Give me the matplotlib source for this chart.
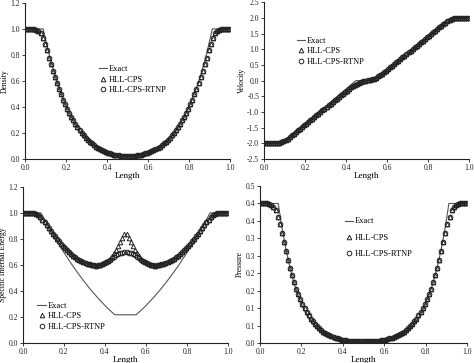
import matplotlib
matplotlib.use('Agg')
import matplotlib.pyplot as plt
from matplotlib.ticker import FixedLocator, FixedFormatter

plt.rcParams['font.family'] = ['Liberation Serif', 'DejaVu Serif']

# cell centres of the 100-cell mesh
length = [0.005, 0.015, 0.025, 0.035, 0.045, 0.055, 0.065, 0.075, 0.085, 0.095,
          0.105, 0.115, 0.125, 0.135, 0.145, 0.155, 0.165, 0.175, 0.185, 0.195,
          0.205, 0.215, 0.225, 0.235, 0.245, 0.255, 0.265, 0.275, 0.285, 0.295,
          0.305, 0.315, 0.325, 0.335, 0.345, 0.355, 0.365, 0.375, 0.385, 0.395,
          0.405, 0.415, 0.425, 0.435, 0.445, 0.455, 0.465, 0.475, 0.485, 0.495,
          0.505, 0.515, 0.525, 0.535, 0.545, 0.555, 0.565, 0.575, 0.585, 0.595,
          0.605, 0.615, 0.625, 0.635, 0.645, 0.655, 0.665, 0.675, 0.685, 0.695,
          0.705, 0.715, 0.725, 0.735, 0.745, 0.755, 0.765, 0.775, 0.785, 0.795,
          0.805, 0.815, 0.825, 0.835, 0.845, 0.855, 0.865, 0.875, 0.885, 0.895,
          0.905, 0.915, 0.925, 0.935, 0.945, 0.955, 0.965, 0.975, 0.985, 0.995]

density = [1.000, 1.000, 1.000, 1.000, 0.999, 0.995, 0.985, 0.965, 0.930, 0.885,
           0.835, 0.780, 0.728, 0.677, 0.628, 0.582, 0.538, 0.496, 0.457, 0.420,
           0.386, 0.354, 0.324, 0.296, 0.270, 0.246, 0.223, 0.202, 0.183, 0.165,
           0.149, 0.134, 0.120, 0.108, 0.096, 0.086, 0.077, 0.068, 0.061, 0.054,
           0.048, 0.043, 0.038, 0.034, 0.031, 0.028, 0.026, 0.024, 0.023, 0.022,
           0.022, 0.023, 0.024, 0.026, 0.028, 0.031, 0.034, 0.038, 0.043, 0.048,
           0.054, 0.061, 0.068, 0.077, 0.086, 0.096, 0.108, 0.120, 0.134, 0.149,
           0.165, 0.183, 0.202, 0.223, 0.246, 0.270, 0.296, 0.324, 0.354, 0.386,
           0.420, 0.457, 0.496, 0.538, 0.582, 0.628, 0.677, 0.728, 0.780, 0.835,
           0.885, 0.930, 0.965, 0.985, 0.995, 0.999, 1.000, 1.000, 1.000, 1.000]

velocity = [-2.000, -2.000, -2.000, -2.000, -2.000, -1.999, -1.995, -1.982, -1.960, -1.930,
            -1.895, -1.850, -1.800, -1.747, -1.693, -1.640, -1.587, -1.534, -1.481, -1.428,
            -1.375, -1.322, -1.269, -1.216, -1.163, -1.110, -1.057, -1.004, -0.951, -0.898,
            -0.845, -0.792, -0.739, -0.686, -0.633, -0.580, -0.527, -0.474, -0.421, -0.369,
            -0.318, -0.268, -0.220, -0.175, -0.134, -0.097, -0.066, -0.040, -0.020, -0.006,
            0.006, 0.020, 0.040, 0.066, 0.097, 0.134, 0.175, 0.220, 0.268, 0.318,
            0.369, 0.421, 0.474, 0.527, 0.580, 0.633, 0.686, 0.739, 0.792, 0.845,
            0.898, 0.951, 1.004, 1.057, 1.110, 1.163, 1.216, 1.269, 1.322, 1.375,
            1.428, 1.481, 1.534, 1.587, 1.640, 1.693, 1.747, 1.800, 1.850, 1.895,
            1.930, 1.960, 1.982, 1.995, 1.999, 2.000, 2.000, 2.000, 2.000, 2.000]

pressure = [0.400, 0.400, 0.400, 0.400, 0.399, 0.397, 0.391, 0.380, 0.362, 0.340,
            0.315, 0.289, 0.263, 0.238, 0.215, 0.194, 0.174, 0.156, 0.140, 0.125,
            0.112, 0.100, 0.089, 0.079, 0.070, 0.062, 0.055, 0.048, 0.043, 0.038,
            0.033, 0.029, 0.025, 0.022, 0.019, 0.017, 0.015, 0.013, 0.011, 0.010,
            0.009, 0.008, 0.007, 0.0065, 0.006, 0.0055, 0.005, 0.005, 0.0048, 0.0048,
            0.0048, 0.0048, 0.005, 0.005, 0.0055, 0.006, 0.0065, 0.007, 0.008, 0.009,
            0.010, 0.011, 0.013, 0.015, 0.017, 0.019, 0.022, 0.025, 0.029, 0.033,
            0.038, 0.043, 0.048, 0.055, 0.062, 0.070, 0.079, 0.089, 0.100, 0.112,
            0.125, 0.140, 0.156, 0.174, 0.194, 0.215, 0.238, 0.263, 0.289, 0.315,
            0.340, 0.362, 0.380, 0.391, 0.397, 0.399, 0.400, 0.400, 0.400, 0.400]

energy_cps = [1.000, 1.000, 1.000, 1.000, 0.999, 0.997, 0.991, 0.981, 0.966, 0.948,
              0.928, 0.907, 0.885, 0.863, 0.841, 0.820, 0.800, 0.781, 0.763, 0.746,
              0.730, 0.714, 0.699, 0.685, 0.672, 0.660, 0.649, 0.639, 0.630, 0.622,
              0.615, 0.609, 0.604, 0.600, 0.597, 0.596, 0.597, 0.600, 0.605, 0.612,
              0.621, 0.633, 0.648, 0.667, 0.690, 0.716, 0.745, 0.775, 0.805, 0.838,
              0.838, 0.805, 0.775, 0.745, 0.716, 0.690, 0.667, 0.648, 0.633, 0.621,
              0.612, 0.605, 0.600, 0.597, 0.596, 0.597, 0.600, 0.604, 0.609, 0.615,
              0.622, 0.630, 0.639, 0.649, 0.660, 0.672, 0.685, 0.699, 0.714, 0.730,
              0.746, 0.763, 0.781, 0.800, 0.820, 0.841, 0.863, 0.885, 0.907, 0.928,
              0.948, 0.966, 0.981, 0.991, 0.997, 0.999, 1.000, 1.000, 1.000, 1.000]

energy_rtnp = [1.000, 1.000, 1.000, 1.000, 0.999, 0.997, 0.991, 0.981, 0.966, 0.948,
               0.928, 0.907, 0.885, 0.863, 0.841, 0.820, 0.800, 0.781, 0.763, 0.746,
               0.730, 0.714, 0.699, 0.685, 0.672, 0.660, 0.649, 0.639, 0.630, 0.622,
               0.615, 0.609, 0.604, 0.600, 0.597, 0.596, 0.597, 0.600, 0.605, 0.612,
               0.620, 0.630, 0.641, 0.653, 0.664, 0.674, 0.683, 0.690, 0.695, 0.698,
               0.698, 0.695, 0.690, 0.683, 0.674, 0.664, 0.653, 0.641, 0.630, 0.620,
               0.612, 0.605, 0.600, 0.597, 0.596, 0.597, 0.600, 0.604, 0.609, 0.615,
               0.622, 0.630, 0.639, 0.649, 0.660, 0.672, 0.685, 0.699, 0.714, 0.730,
               0.746, 0.763, 0.781, 0.800, 0.820, 0.841, 0.863, 0.885, 0.907, 0.928,
               0.948, 0.966, 0.981, 0.991, 0.997, 0.999, 1.000, 1.000, 1.000, 1.000]

# exact solution, sampled
x_exact = [0.0, 0.088, 0.105, 0.125, 0.145, 0.165, 0.185, 0.205, 0.225, 0.245,
           0.265, 0.285, 0.305, 0.325, 0.345, 0.365, 0.385, 0.405, 0.425, 0.448,
           0.552, 0.575, 0.595, 0.615, 0.635, 0.655, 0.675, 0.695, 0.715, 0.735,
           0.755, 0.775, 0.795, 0.815, 0.835, 0.855, 0.875, 0.895, 0.912, 1.0]
density_exact = [1.0, 1.0, 0.880, 0.754, 0.643, 0.545, 0.460, 0.385, 0.321, 0.265,
                 0.218, 0.178, 0.143, 0.115, 0.091, 0.071, 0.055, 0.042, 0.031, 0.022,
                 0.022, 0.031, 0.042, 0.055, 0.071, 0.091, 0.115, 0.143, 0.178, 0.218,
                 0.265, 0.321, 0.385, 0.460, 0.545, 0.643, 0.754, 0.880, 1.0, 1.0]
pressure_exact = [0.4, 0.4, 0.3345, 0.2694, 0.2154, 0.1710, 0.1348, 0.1053, 0.0815, 0.0625,
                  0.0474, 0.0356, 0.0263, 0.0193, 0.0139, 0.0098, 0.0069, 0.0047, 0.0031, 0.0019,
                  0.0019, 0.0031, 0.0047, 0.0069, 0.0098, 0.0139, 0.0193, 0.0263, 0.0356, 0.0474,
                  0.0625, 0.0815, 0.1053, 0.1348, 0.1710, 0.2154, 0.2694, 0.3345, 0.4, 0.4]
energy_exact = [1.0, 1.0, 0.950, 0.893, 0.838, 0.784, 0.733, 0.683, 0.635, 0.588,
                0.544, 0.501, 0.460, 0.420, 0.383, 0.347, 0.313, 0.280, 0.250, 0.217,
                0.217, 0.250, 0.280, 0.313, 0.347, 0.383, 0.420, 0.460, 0.501, 0.544,
                0.588, 0.635, 0.683, 0.733, 0.784, 0.838, 0.893, 0.950, 1.0, 1.0]
x_vel_exact = [0.0, 0.088, 0.448, 0.552, 0.912, 1.0]
velocity_exact = [-2.0, -2.0, 0.0, 0.0, 2.0, 2.0]

fig = plt.figure(figsize=(4.74, 3.63), dpi=100)

def panel(rect, xe, ye, y1, y2, ylabel, yticks, ylabels, ylim, leg_anchor, leg_space):
    ax = fig.add_axes(rect)
    ax.plot(xe, ye, color='#555555', lw=0.8, label='Exact')
    ax.plot(length, y1, ls='none', marker='^', ms=3.3, mfc='none', mec='#222222',
            mew=0.7, label='HLL-CPS')
    ax.plot(length, y2, ls='none', marker='o', ms=3.3, mfc='none', mec='#222222',
            mew=0.7, label='HLL-CPS-RTNP')
    ax.set_xlim(0, 1)
    ax.set_ylim(*ylim)
    ax.xaxis.set_major_locator(FixedLocator([0, 0.2, 0.4, 0.6, 0.8, 1.0]))
    ax.xaxis.set_major_formatter(FixedFormatter(['0.0', '0.2', '0.4', '0.6', '0.8', '1.0']))
    ax.yaxis.set_major_locator(FixedLocator(yticks))
    ax.yaxis.set_major_formatter(FixedFormatter(ylabels))
    for s in ['top', 'right']:
        ax.spines[s].set_visible(False)
    for s in ['left', 'bottom']:
        ax.spines[s].set_linewidth(0.8)
        ax.spines[s].set_color('#222222')
    ax.tick_params(labelsize=5.5, length=2, width=0.6, pad=1.5, colors='#222222')
    ax.set_xlabel('Length', fontsize=6.5, labelpad=0)
    ax.set_ylabel(ylabel, fontsize=5.5, labelpad=1)
    ax.legend(loc='upper left', bbox_to_anchor=leg_anchor, frameon=False, fontsize=6,
              handlelength=1.0, handletextpad=0.2, labelspacing=leg_space,
              borderaxespad=0, borderpad=0)
    return ax

panel([0.053, 0.562, 0.433, 0.430], x_exact, density_exact, density, density,
      'Density', [0, 0.2, 0.4, 0.6, 0.8, 1.0, 1.2],
      ['0.0', '0.2', '0.4', '0.6', '0.8', '1.0', '1.2'], (0, 1.2), (0.36, 0.60), 0.3)

panel([0.557, 0.562, 0.4325, 0.432], x_vel_exact, velocity_exact, velocity, velocity,
      'Velocity', [-2.5, -2.0, -1.5, -1.0, -0.5, 0, 0.5, 1.0, 1.5, 2.0, 2.5],
      ['-2.5', '-2.0', '-1.5', '-1.0', '-0.5', '0.0', '0.5', '1.0', '1.5', '2.0', '2.5'],
      (-2.5, 2.5), (0.16, 0.78), 0.3)

panel([0.0485, 0.055, 0.4325, 0.430], x_exact, energy_exact, energy_cps, energy_rtnp,
      'Specific Internal Energy', [0, 0.2, 0.4, 0.6, 0.8, 1.0, 1.2],
      ['0.0', '0.2', '0.4', '0.6', '0.8', '1.0', '1.2'], (0, 1.2), (0.07, 0.265), 0.3)

panel([0.5485, 0.055, 0.437, 0.4325], x_exact, pressure_exact, pressure, pressure,
      'Pressure', [0, 0.05, 0.1, 0.15, 0.2, 0.25, 0.3, 0.35, 0.4, 0.45],
      ['0.0', '0.1', '0.1', '0.2', '0.2', '0.3', '0.3', '0.4', '0.4', '0.5'],
      (0, 0.45), (0.41, 0.80), 1.0)

fig.savefig('out.png', dpi=100)
